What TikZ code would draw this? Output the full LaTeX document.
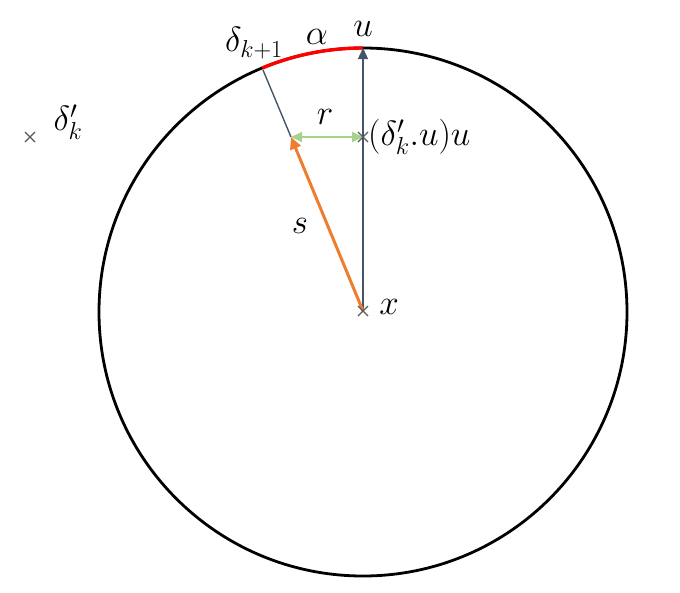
\RequirePackage{fix-cm}
\documentclass[tikz,border=0pt]{standalone}
\usetikzlibrary{arrows.meta,calc}
\definecolor{slate}{HTML}{44546A}
\definecolor{crossgray}{HTML}{595959}
\definecolor{orng}{HTML}{ED7D31}
\definecolor{grn}{HTML}{A9D18E}
\begin{document}
\begin{tikzpicture}[x=1pt,y=-1pt,
  lbl/.style={inner sep=0pt,font=\fontsize{35}{40}\selectfont},
  crossmark/.style={draw=crossgray,line width=1.2pt},
  tipS/.style={-{Triangle[length=11pt,width=10pt]}}]
\useasboundingbox (0,0) rectangle (680,592);
\coordinate (x) at (363,311);
\coordinate (u) at (363,48);
\coordinate (p) at (291,137);
\coordinate (q) at (363,137);
\coordinate (d) at (263,70);
\coordinate (dk) at (30,137);
% circle
\draw[line width=2.8pt] (363,312) circle[radius=264];
% red arc
\draw[red,line width=3.4pt] (363,312) ++(-112.45:264) arc[start angle=-112.45,end angle=-90,radius=264];
% line to delta_{k+1}
\draw[slate,line width=1.4pt] (p) -- (d);
% vertical arrow x -> u
\draw[slate,line width=1.4pt,tipS] (x) -- (u);
% orange s
\draw[orng,line width=3pt,-{Triangle[length=12pt,width=11pt]}] (x) -- (p);
% green r
\draw[grn,line width=2pt,{Triangle[length=11pt,width=10pt]}-{Triangle[length=11pt,width=10pt]}] (p) -- (q);
% crosses
\foreach \c in {x,q,dk}{
  \draw[crossmark] ($(\c)+(-5,-5)$) -- ($(\c)+(5,5)$);
  \draw[crossmark] ($(\c)+(-5,5)$) -- ($(\c)+(5,-5)$);
}
% labels
\node[lbl] (lu) at (363,29) {$u$};
\node[lbl] (la) at (317,37) {$\alpha$};
\node[lbl] (ld) at (254,43) {$\delta_{k+1}$};
\node[lbl] (lr) at (325,117) {$r$};
\node[lbl,anchor=west] (lq) at (368,137) {$(\delta'_k.u)u$};
\node[lbl] (ls) at (300,226) {$s$};
\node[lbl] (lx) at (389,307) {$x$};
\node[lbl] (ldk) at (68,122) {$\delta'_k$};
\end{tikzpicture}
\end{document}
